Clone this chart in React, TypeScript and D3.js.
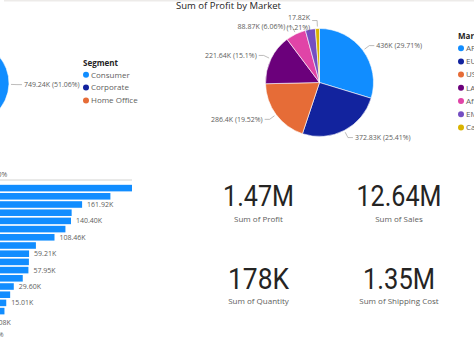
import React from "react";
import * as d3 from "d3";

const segments = ["Consumer", "Corporate", "Home Office"];
const segmentProfit = [749.24, 441.21, 277.01];
const hiddenSegmentLabels = ["Corporate", "Home Office"];
const markets = ["APAC", "EU", "US", "LATAM", "Africa", "EMEA", "Canada"];
const marketProfit = [436.0, 372.83, 286.4, 221.64, 88.87, 43.9, 17.82];
const hiddenMarketLabels = ["EMEA"];
const stackedMarketLabels = ["Canada"];
const subCategories = [
  "Copiers", "Phones", "Bookcases", "Appliances", "Chairs", "Accessories", "Storage", "Binders",
  "Paper", "Machines", "Art", "Furnishings", "Envelopes", "Supplies", "Labels", "Fasteners", "Tables",
];
const subCategoryProfit = [
  258.57, 216.72, 161.92, 141.68, 140.4, 129.63, 108.46, 72.45,
  59.21, 58.87, 57.95, 46.97, 29.6, 22.58, 15.01, 11.53, -64.08,
];
const labelledSubCategories = ["Bookcases", "Chairs", "Storage", "Paper", "Art", "Envelopes", "Labels", "Tables"];
const kpiValues = ["1.47M", "12.64M", "178K", "1.35M"];
const kpiLabels = ["Sum of Profit", "Sum of Sales", "Sum of Quantity", "Sum of Shipping Cost"];
const palette = ["#118DFF", "#12239E", "#E66C37", "#6B007B", "#E044A7", "#744EC2", "#D9B300"];

const W = 474;
const H = 355;
const FONT = "'Open Sans', 'Noto Sans', sans-serif";
const LABEL = "#605E5C";

const trim = (v: number) => String(+v.toFixed(2));

function Pie({
  names, values, cx, cy, r, hidden = [], stacked = [],
}: { names: string[]; values: number[]; cx: number; cy: number; r: number; hidden?: string[]; stacked?: string[] }) {
  const total = d3.sum(values);
  const arcs = d3.pie<number>().sort(null).value((d) => d)(values);
  const arc = d3.arc<d3.PieArcDatum<number>>().innerRadius(0).outerRadius(r);
  return (
    <g transform={`translate(${cx},${cy})`}>
      {arcs.map((a, i) => (
        <path key={i} d={arc(a) || ""} fill={palette[i]} stroke="#fff" strokeWidth={0.6} />
      ))}
      {arcs.map((a, i) => {
        if (hidden.includes(names[i])) return null;
        const m = (a.startAngle + a.endAngle) / 2;
        const sx = Math.sin(m), sy = -Math.cos(m);
        const p1 = [sx * (r + 2), sy * (r + 2)];
        const p2 = [sx * (r + 8), sy * (r + 8)];
        const dir = sx >= 0 ? 1 : -1;
        const p3 = [p2[0] + dir * 5, p2[1]];
        const pct = trim((values[i] / total) * 100);
        const txt = `${trim(values[i])}K (${pct}%)`;
        const tx = p3[0] + dir * 2;
        const anchor = dir > 0 ? "start" : "end";
        return (
          <g key={"l" + i}>
            <polyline points={[p1, p2, p3].map((p) => p.join(",")).join(" ")} fill="none" stroke="#A19F9D" strokeWidth={0.7} />
            {stacked.includes(names[i]) ? (
              <text x={tx} y={p2[1] - 1} textAnchor={anchor} fontSize={7} fill={LABEL} fontFamily={FONT}>
                <tspan x={tx}>{`${trim(values[i])}K`}</tspan>
                <tspan x={tx} dy={10}>{`(${pct}%)`}</tspan>
              </text>
            ) : (
              <text x={tx} y={p2[1]} dy="0.35em" textAnchor={anchor} fontSize={7} fill={LABEL} fontFamily={FONT}>
                {txt}
              </text>
            )}
          </g>
        );
      })}
    </g>
  );
}

function Legend({ title, names, x, y, step }: { title: string; names: string[]; x: number; y: number; step: number }) {
  return (
    <g transform={`translate(${x},${y})`}>
      <text x={0} y={0} dy="0.35em" fontSize={8} fontWeight={700} fill="#252423" fontFamily={FONT}>
        {title}
      </text>
      {names.map((n, i) => (
        <g key={n} transform={`translate(0,${(i + 1) * step - 1})`}>
          <circle cx={3} cy={0} r={3} fill={palette[i]} />
          <text x={8} y={0} dy="0.35em" fontSize={8} fill={LABEL} fontFamily={FONT}>
            {n}
          </text>
        </g>
      ))}
    </g>
  );
}

function Funnel() {
  const cx = -1.5;
  const max = d3.max(subCategoryProfit) as number;
  const w = d3.scaleLinear().domain([0, max]).range([0, 267]);
  const y = d3.scaleBand<string>().domain(subCategories).range([184, 323.4]).paddingInner(0.2).paddingOuter(0.1);
  const bw = y.bandwidth();
  const first = subCategoryProfit[0];
  const last = subCategoryProfit[subCategoryProfit.length - 1];
  const conv = ((last / first) * 100).toFixed(2) + "%";
  const w0 = w(first);
  return (
    <g>
      <text x={cx} y={175} dy="0.35em" textAnchor="middle" fontSize={7} fill={LABEL} fontFamily={FONT}>
        100%
      </text>
      <line x1={cx - w0 / 2} x2={cx + w0 / 2} y1={180} y2={180} stroke="#C8C6C4" strokeWidth={0.8} />
      {subCategories.map((c, i) => {
        const v = Math.max(0, subCategoryProfit[i]);
        const ww = w(v);
        return <rect key={c} x={cx - ww / 2} y={y(c)} width={ww} height={bw} fill="#118DFF" />;
      })}
      {subCategories.map((c, i) => {
        if (!labelledSubCategories.includes(c)) return null;
        const v = subCategoryProfit[i];
        const yy = (y(c) as number) + bw / 2;
        const txt = `${v.toFixed(2)}K`;
        if (v <= 0)
          return (
            <text key={c} x={cx} y={yy + 3} dy="0.35em" textAnchor="middle" fontSize={7} fill={LABEL} fontFamily={FONT}>
              {txt}
            </text>
          );
        return (
          <text key={c} x={cx + w(v) / 2 + 5} y={yy} dy="0.35em" fontSize={7} fill={LABEL} fontFamily={FONT}>
            {txt}
          </text>
        );
      })}
      <text x={cx - 8} y={335} dy="0.35em" textAnchor="middle" fontSize={7} fill={LABEL} fontFamily={FONT}>
        {conv}
      </text>
    </g>
  );
}

function Cards() {
  const cols = [258.5, 399];
  const rows = [206, 288.5];
  const widths = [71, 85, 61, 72];
  return (
    <g>
      {kpiValues.map((v, i) => {
        const x = cols[i % 2];
        const yb = rows[Math.floor(i / 2)];
        return (
          <g key={v}>
            <text x={x} y={yb} textAnchor="middle" fontSize={30} fill="#252423" fontFamily="Roboto, sans-serif"
              textLength={widths[i]} lengthAdjust="spacingAndGlyphs">
              {v}
            </text>
            <text x={x} y={yb + 15.5} textAnchor="middle" fontSize={8} fill={LABEL} fontFamily={FONT}>
              {kpiLabels[i]}
            </text>
          </g>
        );
      })}
    </g>
  );
}

export default function App() {
  return (
    <svg width={W} height={H} style={{ position: "absolute", left: 0, top: 0, background: "#fff" }}>
      <rect x={0} y={0} width={W} height={H} fill="#fff" />
      <rect x={4} y={0} width={W - 4} height={1.5} fill="#EDEBE9" />
      <Pie names={segments} values={segmentProfit} cx={-31.6} cy={83} r={40.6} hidden={hiddenSegmentLabels} />
      <Legend title="Segment" names={segments} x={83} y={63} step={12.8} />
      <text x={228.5} y={6} dy="0.35em" textAnchor="middle" fontSize={9.5} fill="#252423" fontFamily={FONT}>
        Sum of Profit by Market
      </text>
      <Pie names={markets} values={marketProfit} cx={319.5} cy={82.5} r={54}
        hidden={hiddenMarketLabels} stacked={stackedMarketLabels} />
      <Legend title="Market" names={markets} x={458} y={36} step={13.2} />
      <Funnel />
      <Cards />
    </svg>
  );
}
